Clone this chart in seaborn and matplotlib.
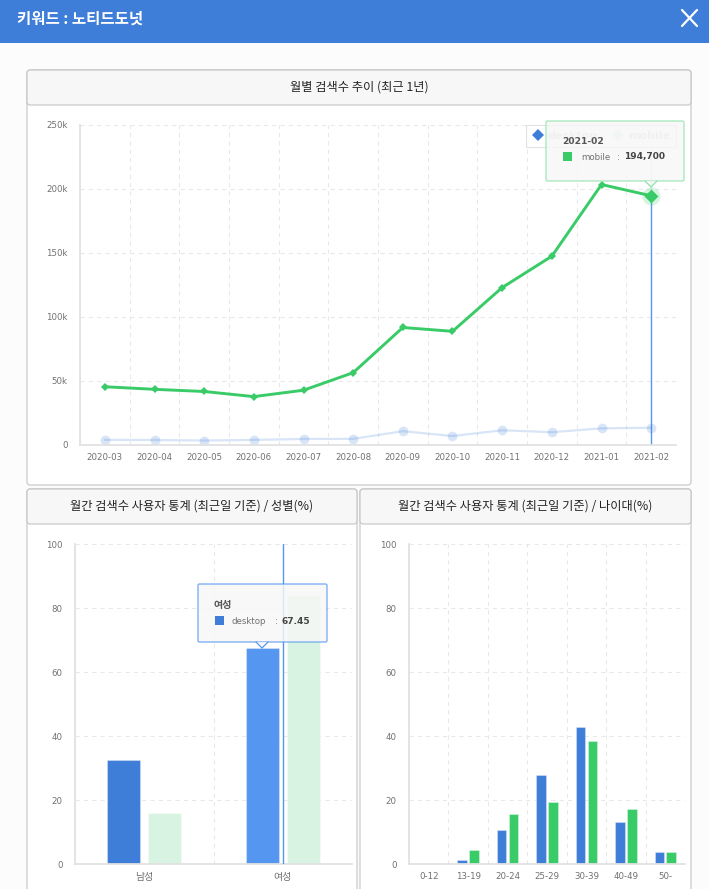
import numpy as np
import pandas as pd
import matplotlib
matplotlib.use('Agg')
import matplotlib.pyplot as plt
from matplotlib.patches import FancyBboxPatch, Rectangle, Polygon
import seaborn as sns

months = ['2020-03', '2020-04', '2020-05', '2020-06', '2020-07', '2020-08',
          '2020-09', '2020-10', '2020-11', '2020-12', '2021-01', '2021-02']
desktop_monthly = [4000, 3900, 3500, 4000, 4700, 4800, 10800, 7000, 11500, 10000, 13000, 13500]
mobile_monthly = [45500, 43500, 41800, 37800, 42800, 56500, 91800, 88800, 123000, 147500, 203500, 194700]

genders = ['남성', '여성']
desktop_gender = [32.55, 67.45]
mobile_gender = [15.8, 84.2]

ages = ['0-12', '13-19', '20-24', '25-29', '30-39', '40-49', '50-']
desktop_age = [0, 1.2, 10.5, 27.8, 42.8, 13.0, 3.8]
mobile_age = [0, 4.5, 15.5, 19.5, 38.3, 17.2, 3.8]

BLUE = '#3e7dd8'
BLUE_HOVER = '#5596f0'
GREEN = '#38cb67'
GREEN_FADE = '#d8f3e1'
GRID = '#e8e8e8'
LATIN = ['DejaVu Sans', 'Noto Sans CJK KR']
W, H = 709, 889

sns.set_theme(style='white')
plt.rcParams['font.family'] = ['Noto Sans CJK KR', 'DejaVu Sans']
plt.rcParams['axes.unicode_minus'] = False

fig = plt.figure(figsize=(W / 100, H / 100), dpi=100, facecolor='#fcfcfc')


def pixel_axes(zorder):
    a = fig.add_axes([0, 0, 1, 1], zorder=zorder)
    a.set_xlim(0, W)
    a.set_ylim(H, 0)
    a.axis('off')
    a.patch.set_alpha(0)
    return a


def chart_axes(x0, x1, y0, y1):
    return fig.add_axes([x0 / W, 1 - y1 / H, (x1 - x0) / W, (y1 - y0) / H], zorder=2)


def style_axes(a, n, yticks, ylabels):
    a.set_xlim(-0.5, n - 0.5)
    a.set_xlabel('')
    a.set_ylabel('')
    a.set_yticks(yticks, ylabels)
    a.set_xticks(np.arange(-0.5, n), minor=True)
    a.grid(True, axis='y', ls=(0, (4, 4)), color=GRID, lw=0.75)
    a.grid(True, axis='x', which='minor', ls=(0, (4, 4)), color=GRID, lw=0.75)
    a.set_axisbelow(True)
    a.tick_params(which='both', length=0)
    a.tick_params(axis='x', labelsize=6.2, labelcolor='#707070', pad=6)
    a.tick_params(axis='y', labelsize=6.2, labelcolor='#707070', pad=9)
    for lab in a.get_xticklabels() + a.get_yticklabels():
        lab.set_family(LATIN)
    for s in ['top', 'right']:
        a.spines[s].set_visible(False)
    for s in ['left', 'bottom']:
        a.spines[s].set_color('#e2e2e2')
        a.spines[s].set_linewidth(1.3)


def panel(a, x0, x1, y0, y1, title):
    a.add_patch(FancyBboxPatch((x0, y0), x1 - x0, y1 - y0, boxstyle='round,pad=0,rounding_size=3',
                               fc='white', ec='#c4c4c4', lw=0.8))
    a.add_patch(FancyBboxPatch((x0, y0), x1 - x0, 35, boxstyle='round,pad=0,rounding_size=3',
                               fc='#f7f7f7', ec='#c4c4c4', lw=0.8))
    a.text((x0 + x1) / 2, y0 + 17.5, title, ha='center', va='center', fontsize=8.8, color='#222222')


def tooltip(a, x0, x1, y0, y1, tip_x, color):
    a.add_patch(FancyBboxPatch((x0, y0), x1 - x0, y1 - y0, boxstyle='round,pad=0,rounding_size=1.5',
                               fc='#f7f7f7', ec=color, lw=0.9, alpha=0.82))
    a.add_patch(Polygon([[tip_x - 6, y1], [tip_x, y1 + 6], [tip_x + 6, y1]], fc='#f7f7f7', ec='none', alpha=0.82))
    a.plot([tip_x - 6, tip_x, tip_x + 6], [y1, y1 + 6, y1], color=color, lw=0.9)


bg = pixel_axes(0)
bg.add_patch(Rectangle((0, 0), W, 43, fc=BLUE, ec='none'))
bg.text(17, 18.5, '키워드 : 노티드도넛', color='white', fontsize=11.2, fontweight='bold', va='center')
bg.plot([682, 697], [10, 26], color='white', lw=1.6)
bg.plot([697, 682], [10, 26], color='white', lw=1.6)
panel(bg, 27, 691, 70, 485, '월별 검색수 추이 (최근 1년)')
panel(bg, 27, 357, 489, 930, '월간 검색수 사용자 통계 (최근일 기준) / 성별(%)')
panel(bg, 360, 691, 489, 930, '월간 검색수 사용자 통계 (최근일 기준) / 나이대(%)')

# monthly lines
ax1 = chart_axes(80, 676, 125, 445)
ax1.patch.set_alpha(0)
monthly = pd.DataFrame({'month': months, 'desktop': desktop_monthly, 'mobile': mobile_monthly})
sns.lineplot(data=monthly, x='month', y='desktop', ax=ax1, color=BLUE, alpha=0.2, lw=1.6,
             marker='o', markersize=7, markeredgewidth=0, label='desktop')
sns.lineplot(data=monthly, x='month', y='mobile', ax=ax1, color=GREEN, lw=2.1,
             marker='D', markersize=4.5, markeredgewidth=0, label='mobile')
ax1.set_ylim(0, 250000)
style_axes(ax1, 12, [0, 50000, 100000, 150000, 200000, 250000], ['0', '50k', '100k', '150k', '200k', '250k'])
ax1.axvline(11, ymax=mobile_monthly[-1] / 250000, color=BLUE_HOVER, lw=1, zorder=1)
ax1.axvline(11, ymin=mobile_monthly[-1] / 250000, color=BLUE_HOVER, lw=1, alpha=0.2, zorder=1)
ax1.scatter([11], [mobile_monthly[-1]], s=170, color=GREEN, alpha=0.2, linewidths=0, zorder=4)
ax1.scatter([11], [mobile_monthly[-1]], s=50, marker='D', color=GREEN, linewidths=0, zorder=5)
leg = ax1.legend(loc='upper right', bbox_to_anchor=(1.0, 1.0), ncol=2, frameon=True, fancybox=False,
                 edgecolor='#dddddd', handlelength=1.0, columnspacing=1.3, handletextpad=0.4,
                 borderpad=0.55, borderaxespad=0, prop={'family': LATIN, 'size': 8, 'weight': 'bold'})
leg.get_frame().set_linewidth(0.8)
for txt in leg.get_texts():
    txt.set_color('#d4d4d4')
for line, col in zip(leg.get_lines(), [BLUE, GREEN_FADE]):
    line.set_alpha(1)
    line.set_color(col)
    line.set_linestyle('none')
    line.set_marker('D')
    line.set_markersize(6)


def bar_chart(a, cats, desktop, mobile, width, mobile_color):
    df = pd.DataFrame({'cat': cats * 2, 'value': desktop + mobile,
                       'device': ['desktop'] * len(cats) + ['mobile'] * len(cats)})
    sns.barplot(data=df, x='cat', y='value', hue='device', ax=a, width=width, gap=0.2,
                palette={'desktop': BLUE, 'mobile': mobile_color}, legend=False, saturation=1,
                edgecolor=(1, 1, 1, 0.3), linewidth=0.8)
    a.set_ylim(0, 100)
    style_axes(a, len(cats), [0, 20, 40, 60, 80, 100], ['0', '20', '40', '60', '80', '100'])
    a.patch.set_alpha(0)


# gender share
ax2 = chart_axes(75, 352, 544, 864)
bar_chart(ax2, genders, desktop_gender, mobile_gender, 0.59, GREEN_FADE)
ax2.tick_params(axis='x', labelsize=7.2)
ax2.containers[0][1].set_facecolor(BLUE_HOVER)
ax2.axvline(1, color=BLUE_HOVER, lw=1, zorder=5)

# age share
ax3 = chart_axes(409, 685, 544, 864)
bar_chart(ax3, ages, desktop_age, mobile_age, 0.6, GREEN)

# tooltips
fg = pixel_axes(6)
tooltip(fg, 546, 684, 121, 181, 651, '#8fe2a9')
fg.text(562, 142, months[-1], fontsize=6.6, fontweight='bold', color='#555555', va='center', family=LATIN)
fg.add_patch(Rectangle((563, 152), 9, 9, fc=GREEN, ec='none'))
fg.text(581, 157, 'mobile', fontsize=6.2, color='#707070', va='center', family=LATIN)
fg.text(617, 157, ':', fontsize=6.2, color='#707070', va='center', family=LATIN)
fg.text(624, 157, f'{mobile_monthly[-1]:,}', fontsize=6.5, fontweight='bold', color='#444444', va='center', family=LATIN)

tooltip(fg, 198, 327, 584, 642, 262, BLUE_HOVER)
fg.text(214, 605, genders[1], fontsize=7.2, fontweight='bold', color='#555555', va='center')
fg.add_patch(Rectangle((215, 616), 9, 9, fc=BLUE, ec='none'))
fg.text(232, 621, 'desktop', fontsize=6.2, color='#707070', va='center', family=LATIN)
fg.text(275, 621, ':', fontsize=6.2, color='#707070', va='center', family=LATIN)
fg.text(281, 621, f'{desktop_gender[1]:.2f}', fontsize=6.5, fontweight='bold', color='#444444', va='center', family=LATIN)

fig.savefig('out.png', dpi=100, facecolor=fig.get_facecolor())
